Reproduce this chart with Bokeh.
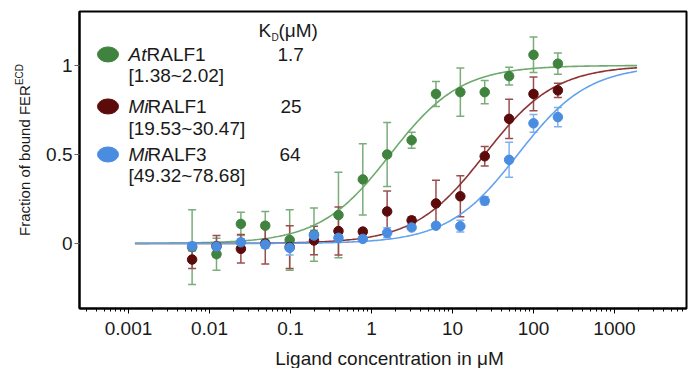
import numpy as np
from bokeh.plotting import figure
from bokeh.layouts import row, column
from bokeh.models import (ColumnDataSource, Whisker, TeeHead, FixedTicker,
                          CustomJSTickFormatter, Label, Range1d)
from bokeh.core.properties import value
from bokeh.embed import file_html
from bokeh.resources import INLINE

# ---------------- data ----------------
conc = [0.0061, 0.0122, 0.0244, 0.0488, 0.0977, 0.195, 0.391, 0.781,
        1.56, 3.13, 6.25, 12.5, 25, 50, 100, 200]
at1_y = [-0.02, -0.06, 0.11, 0.10, 0.02, 0.05, 0.16, 0.36,
         0.50, 0.58, 0.84, 0.85, 0.85, 0.94, 1.06, 1.01]
at1_err = [0.21, 0.09, 0.065, 0.08, 0.17, 0.15, 0.24, 0.20,
           0.18, 0.045, 0.07, 0.135, 0.065, 0.05, 0.10, 0.06]
mi1_y = [-0.09, -0.015, -0.03, 0.0, -0.02, 0.017, 0.07, 0.067,
         0.18, 0.13, 0.225, 0.265, 0.49, 0.70, 0.84, 0.86]
mi1_err = [0.05, 0.06, 0.08, 0.115, 0.12, 0.08, 0.135, 0.015,
           0.115, 0.02, 0.13, 0.115, 0.055, 0.11, 0.095, 0.04]
mi3_y = [-0.015, -0.017, 0.007, -0.006, -0.024, 0.045, 0.032, 0.026,
         0.06, 0.09, 0.10, 0.097, 0.24, 0.47, 0.675, 0.71]
mi3_err = [0.02, 0.02, 0.02, 0.02, 0.04, 0.03, 0.015, 0.01,
           0.028, 0.01, 0.01, 0.033, 0.022, 0.098, 0.05, 0.054]

names_it = ["At", "Mi", "Mi"]
names_rest = ["RALF1", "RALF1", "RALF3"]
kd = [1.7, 25, 64]
kd_text = ["1.7", "25", "64"]
kd_ci = ["[1.38~2.02]", "[19.53~30.47]", "[49.32~78.68]"]
x_ticks = [0.001, 0.01, 0.1, 1, 10, 100, 1000]
y_ticks = [0, 0.5, 1]
fit_range = [0.0012, 1900]
x_title = "Ligand concentration in μM"
y_title = "Fraction of bound FER"
y_title_sup = "ECD"

pt_colors = ["#3f833f", "#5c0b0b", "#4a8ce0"]
ln_colors = ["#6eaa6e", "#8c3434", "#64a2ee"]
eb_colors = ["#7aad7a", "#9b4d4d", "#80b1ee"]

FONT = "Liberation Sans"
TXT = "#1a1a1a"

LEFT_W = 40      # width of the strip holding the y title
MAIN_W = 650
MAIN_H = 344
BOT_H = 24


def blank(w, h):
    f = figure(width=w, height=h, x_range=Range1d(0, w), y_range=Range1d(0, h),
               output_backend="svg", toolbar_location=None,
               min_border=0, min_border_left=0, min_border_right=0,
               min_border_top=0, min_border_bottom=0)
    f.axis.visible = False
    f.grid.visible = False
    f.outline_line_color = None
    return f


# ---------------- main plot ----------------
p = figure(width=MAIN_W, height=MAIN_H, x_axis_type="log",
           x_range=Range1d(10 ** -3.605, 10 ** 3.889),
           y_range=Range1d(-0.365, 1.303),
           output_backend="svg", toolbar_location=None,
           min_border_left=39, min_border_right=4,
           min_border_top=11, min_border_bottom=36)
p.xgrid.visible = False
p.ygrid.visible = False
p.outline_line_color = "black"
p.outline_line_width = 2
p.outline_line_alpha = 1.0

minor = [m * 10.0 ** k for k in range(-4, 4) for m in range(2, 10)]
p.xaxis.ticker = FixedTicker(ticks=x_ticks, minor_ticks=minor)
p.xaxis.formatter = CustomJSTickFormatter(code="return tick.toString();")
p.yaxis.ticker = FixedTicker(ticks=y_ticks, minor_ticks=[])
p.yaxis.formatter = CustomJSTickFormatter(code="return tick.toString();")
for ax in (p.xaxis[0], p.yaxis[0]):
    ax.axis_line_color = "black"
    ax.axis_line_width = 2
    ax.major_tick_in = 0
    ax.major_tick_out = 5
    ax.minor_tick_in = 0
    ax.minor_tick_out = 3
    ax.major_label_text_font = FONT
    ax.major_label_text_font_size = "19px"
    ax.major_label_text_color = TXT
p.xaxis.major_tick_line_color = "black"
p.xaxis.minor_tick_line_color = "black"
p.yaxis.major_tick_line_color = "#666666"
p.yaxis.minor_tick_line_color = None
p.xaxis.major_label_standoff = 8
p.yaxis.major_label_standoff = 2


def dx(sx):
    return 10 ** (-3 + (sx - 128) / 81.0)


def dy(sy):
    return (243 - sy) / 178.0


series = [(at1_y, at1_err), (mi1_y, mi1_err), (mi3_y, mi3_err)]
xfit = np.logspace(np.log10(fit_range[0]), np.log10(fit_range[1]), 300)

for i, (yv, ev) in enumerate(series):
    lo = [a - b for a, b in zip(yv, ev)]
    hi = [a + b for a, b in zip(yv, ev)]
    src = ColumnDataSource(dict(x=conc, y=yv, lo=lo, hi=hi))
    w = Whisker(base="x", lower="lo", upper="hi", source=src,
                line_color=eb_colors[i], line_width=1.5,
                upper_head=TeeHead(size=8, line_color=eb_colors[i], line_width=1.5),
                lower_head=TeeHead(size=8, line_color=eb_colors[i], line_width=1.5))
    p.add_layout(w)

for i in range(3):
    yfit = xfit / (kd[i] + xfit)
    p.line(xfit, yfit, line_color=ln_colors[i], line_width=1.6)

for i, (yv, ev) in enumerate(series):
    p.scatter(conc, yv, size=9.5, marker="circle", fill_color=pt_colors[i],
              line_color=pt_colors[i])

# legend block
leg_y = [54, 106, 154]
ci_y = [75, 128, 175]
kd_x = [277, 280, 279]
rest_x = [146, 147, 147]
common = dict(text_font=FONT, text_font_size="19px", text_color=TXT,
              text_baseline="middle", text_align="left")
for i in range(3):
    p.ellipse(x=[dx(107.5)], y=[dy(leg_y[i])], width=21, height=15,
              width_units="screen", height_units="screen",
              fill_color=pt_colors[i], line_color=pt_colors[i])
    p.add_layout(Label(x=dx(128), y=dy(leg_y[i]), text=names_it[i],
                       text_font_style="italic", **common))
    p.add_layout(Label(x=dx(rest_x[i]), y=dy(leg_y[i]), text=names_rest[i], **common))
    p.add_layout(Label(x=dx(kd_x[i]), y=dy(leg_y[i]), text=kd_text[i], **common))
    p.add_layout(Label(x=dx(128), y=dy(ci_y[i]), text=kd_ci[i], **common))

p.add_layout(Label(x=dx(258), y=dy(30), text="K", **common))
p.add_layout(Label(x=dx(271), y=dy(37), text="D", text_font=FONT,
                   text_font_size="10px", text_color=TXT,
                   text_baseline="middle", text_align="left"))
p.add_layout(Label(x=dx(278), y=dy(30), text="(μM)", **common))

# ---------------- y title strip ----------------
H_TOTAL = MAIN_H + BOT_H
left = blank(LEFT_W, H_TOTAL)
left.text(x=[24], y=[H_TOTAL - 160], text=[y_title], angle=np.pi / 2,
          text_font=value(FONT), text_font_size="15px", text_color=TXT,
          text_align="center", text_baseline="middle")
left.text(x=[19], y=[H_TOTAL - 74], text=[y_title_sup], angle=np.pi / 2,
          text_font=value(FONT), text_font_size="10px", text_color=TXT,
          text_align="center", text_baseline="middle")

# ---------------- x title strip ----------------
bottom = blank(MAIN_W, BOT_H)
bottom.text(x=[372 - LEFT_W], y=[BOT_H - (358 - MAIN_H)], text=[x_title],
            text_font=value(FONT), text_font_size="19px", text_color=TXT,
            text_align="center", text_baseline="middle")

layout = row(left, column(p, bottom, spacing=0), spacing=0)

open("out.html", "w").write(file_html(layout, INLINE))
